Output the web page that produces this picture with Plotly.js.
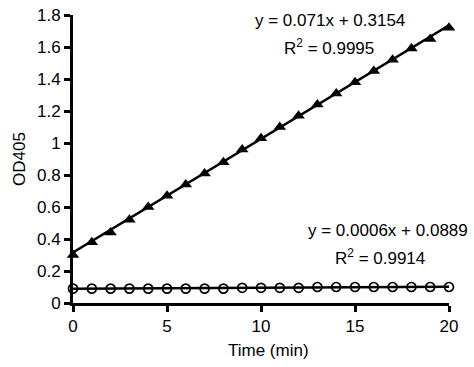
<!DOCTYPE html>
<html><head><meta charset="utf-8">
<script src="https://cdn.plot.ly/plotly-3.0.1.min.js"></script>
<style>body{margin:0;padding:0;background:#fff}#c{width:474px;height:367px}</style>
</head><body><div id="c"></div>
<script>
const timeMin = [0,1,2,3,4,5,6,7,8,9,10,11,12,13,14,15,16,17,18,19,20];
const odTriangle = [0.30,0.38,0.44,0.52,0.60,0.67,0.74,0.81,0.88,0.96,1.03,1.10,1.17,1.24,1.31,1.38,1.45,1.52,1.59,1.65,1.72];
const odCircle = [0.09,0.09,0.09,0.09,0.09,0.09,0.09,0.09,0.09,0.095,0.095,0.095,0.095,0.10,0.10,0.10,0.10,0.10,0.10,0.10,0.10];
const fitTriangle = {slope:0.071, intercept:0.3154, r2:'0.9995'};
const fitCircle = {slope:0.0006, intercept:0.0889, r2:'0.9914'};
const fitRange = [0,20];
const xTicks = [0,5,10,15,20];
const yTicks = [0,0.2,0.4,0.6,0.8,1,1.2,1.4,1.6,1.8];
const yTickText = ['0','0.2','0.4','0.6','0.8','1','1.2','1.4','1.6','1.8'];

const lineOf = f => fitRange.map(x => f.slope*x + f.intercept);
const font = {family:'Liberation Sans, Arial, sans-serif', color:'#000'};
const F = s => Object.assign({size:s}, font);
const px2x = p => (p-73)/376;
const px2y = p => (303-p)/288;
const note = (x, y, text) => ({xref:'paper', yref:'paper', x:px2x(x), y:px2y(y), xanchor:'center', yanchor:'middle', text:text, showarrow:false, font:F(17)});

const traces = [
  {x:fitRange, y:lineOf(fitTriangle), mode:'lines', line:{color:'#000', width:2.5}, cliponaxis:false, hoverinfo:'skip'},
  {x:fitRange, y:lineOf(fitCircle), mode:'lines', line:{color:'#000', width:2.5}, cliponaxis:false, hoverinfo:'skip'},
  {x:timeMin, y:odTriangle, mode:'markers', marker:{symbol:'triangle-up', size:11, color:'#000'}, cliponaxis:false},
  {x:timeMin, y:odCircle, mode:'markers', marker:{symbol:'circle-open', size:9, color:'#000', line:{width:1.7, color:'#000'}}, cliponaxis:false}
];

const layout = {
  width:474, height:367,
  margin:{l:73, r:25, t:15, b:64},
  showlegend:false,
  paper_bgcolor:'#fff', plot_bgcolor:'#fff',
  font:F(17),
  xaxis:{range:[0,20], tickvals:xTicks, ticktext:xTicks.map(String), showgrid:false, zeroline:false,
    showline:true, linecolor:'#000', linewidth:3, ticks:'outside', ticklen:6, tickwidth:3, tickcolor:'#000',
    tickfont:F(17)},
  yaxis:{range:[0,1.8], tickvals:yTicks, ticktext:yTickText, showgrid:false, zeroline:false,
    showline:true, linecolor:'#000', linewidth:3, ticks:'outside', ticklen:6, tickwidth:3, tickcolor:'#000',
    tickfont:F(17), title:{text:'OD405', font:F(17), standoff:8}},
  annotations:[
    note(268, 350, 'Time (min)'),
    note(330, 20, 'y = 0.071x + 0.3154'),
    note(329, 47, 'R<sup>2</sup> = ' + fitTriangle.r2),
    note(388, 230, 'y = 0.0006x + 0.0889'),
    note(380, 257, 'R<sup>2</sup> = ' + fitCircle.r2)
  ]
};
Plotly.newPlot('c', traces, layout, {displayModeBar:false, staticPlot:true});
</script></body></html>
